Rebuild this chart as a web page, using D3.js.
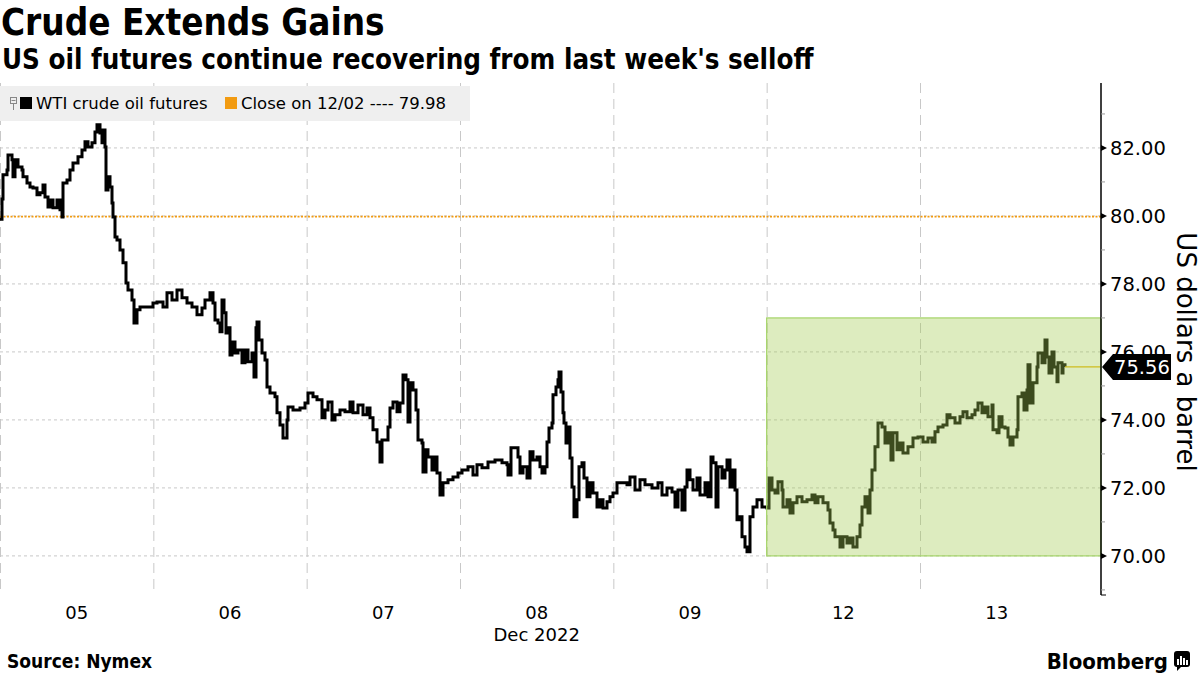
<!DOCTYPE html>
<html>
<head>
<meta charset="utf-8">
<script src="https://cdn.jsdelivr.net/npm/d3@7"></script>
<style>
  body { margin: 0; background: #fff; }
  svg { display: block; }
  .cond { font-family: 'DejaVu Sans Condensed', 'DejaVu Sans', sans-serif; font-stretch: condensed; font-weight: bold; }
  .lbl { font-family: 'DejaVu Sans', sans-serif; }
</style>
</head>
<body>
<svg id="chart" width="1200" height="675"></svg>
<script>
// trading sessions shown (one label per session), 23 hours each
let sessionHours = 23;
let dayLabels = ["05", "06", "07", "08", "09", "12", "13"];
let monthLabel = "Dec 2022";
let yTickValues = [70, 72, 74, 76, 78, 80, 82];
let yMinorValues = [69, 71, 73, 75, 77, 79, 81, 83];
let prevClose = 79.98;
let lastPrice = 75.56;
// shaded box: from the start of session 5 (Dec 12), 70 to 77
let boxSession = 5;
let boxRange = [70, 77];

// WTI intraday: [hours since Dec 5 session open, price]
let wti = [
  [0, 79.9], [0.3, 80.5], [0.45, 81.21], [1.05, 81.35], [1.2, 81.79], [1.8, 81.65], [1.95, 81.15], [2.25, 81.65],
  [2.7, 81.44], [3.3, 81.35], [3.45, 81.15], [4.05, 80.97], [4.5, 80.85], [4.95, 80.82], [5.55, 80.62], [6.0, 80.68],
  [6.45, 80.91], [6.75, 80.56], [7.2, 80.26], [7.5, 80.47], [7.95, 80.24], [8.55, 80.47], [9.0, 80.18], [9.3, 79.97],
  [9.45, 80.97], [10.05, 81.06], [10.5, 81.35], [10.95, 81.56], [11.7, 81.74], [12.3, 81.94], [12.75, 82.18], [13.2, 82.03],
  [13.8, 82.15], [14.25, 82.47], [14.55, 82.68], [15.0, 82.44], [15.3, 82.15], [15.45, 82.53], [15.75, 82.03], [15.9, 80.76],
  [16.2, 81.15], [16.5, 80.85], [16.8, 80.38], [16.95, 79.97], [17.25, 79.38], [17.55, 79.29], [18.0, 79.00], [18.45, 78.62],
  [18.9, 78.03], [19.2, 77.82], [19.8, 77.53], [20.1, 76.85], [20.55, 77.24], [21.0, 77.32], [22.05, 77.32], [22.95, 77.44],
  [23.55, 77.47], [24.45, 77.32], [25.05, 77.74], [25.8, 77.53], [26.55, 77.82], [27.3, 77.59], [28.05, 77.44], [28.8, 77.32],
  [29.55, 77.09], [30.3, 77.29], [30.75, 77.53], [31.5, 77.74], [31.95, 77.44], [32.25, 76.94], [32.7, 76.85], [33.0, 76.59],
  [33.3, 77.53], [33.6, 77.15], [33.9, 76.56], [34.2, 76.71], [34.5, 75.91], [34.8, 76.29], [35.25, 75.97], [35.7, 76.06],
  [36.3, 75.68], [36.75, 76.06], [37.2, 75.71], [37.8, 75.97], [38.1, 75.26], [38.4, 76.71], [38.55, 76.88], [38.85, 76.35],
  [39.3, 75.97], [39.75, 75.76], [40.05, 74.97], [40.5, 74.79], [41.25, 74.68], [41.55, 74.21], [42.0, 73.85], [42.45, 73.47],
  [43.05, 74.00], [43.2, 74.38], [43.95, 74.29], [45.0, 74.35], [45.75, 74.50], [46.05, 74.50], [46.2, 74.79], [46.95, 74.68],
  [47.55, 74.59], [48.3, 74.06], [48.75, 74.29], [49.2, 74.53], [49.8, 74.00], [50.25, 74.15], [51.0, 74.29], [51.75, 74.24],
  [52.5, 74.53], [52.95, 74.21], [53.7, 74.44], [54.45, 74.15], [55.05, 74.35], [55.5, 74.06], [55.95, 73.71], [56.55, 73.35],
  [57.0, 72.76], [57.3, 73.41], [57.75, 73.41], [58.2, 73.79], [58.5, 74.35], [58.95, 74.53], [59.55, 74.24], [60.0, 74.50],
  [60.45, 75.32], [60.9, 75.18], [61.2, 73.94], [61.5, 75.09], [61.95, 74.88], [62.4, 74.29], [62.7, 73.41], [63.3, 73.32],
  [63.45, 72.47], [63.9, 73.12], [64.2, 72.91], [64.8, 72.53], [65.25, 72.91], [65.55, 72.44], [66.0, 71.79], [66.45, 72.15],
  [67.2, 72.24], [67.95, 72.32], [68.7, 72.44], [69.3, 72.53], [70.2, 72.62], [70.95, 72.38], [71.55, 72.68], [72.3, 72.59],
  [73.2, 72.76], [74.25, 72.82], [75.3, 72.74], [76.05, 72.68], [76.2, 72.38], [76.65, 73.18], [77.25, 73.18], [77.7, 72.91],
  [78.0, 72.44], [78.45, 72.62], [79.05, 72.29], [79.5, 73.06], [79.95, 72.82], [80.55, 72.91], [81.0, 72.62], [81.3, 72.44],
  [81.75, 72.62], [82.05, 73.35], [82.35, 73.76], [82.8, 73.91], [82.95, 74.74], [83.4, 74.97], [83.7, 75.18], [83.85, 75.41],
  [84.15, 74.82], [84.45, 74.21], [84.6, 73.91], [84.9, 73.32], [85.2, 73.79], [85.5, 72.88], [85.8, 72.03], [86.1, 71.15],
  [86.55, 71.65], [86.85, 72.62], [87.3, 72.74], [87.6, 72.29], [88.05, 71.74], [88.5, 72.15], [88.95, 71.85], [89.55, 71.44],
  [90.0, 71.65], [90.45, 71.41], [91.05, 71.59], [91.5, 71.74], [91.95, 71.85], [92.55, 72.15], [93.0, 72.15], [94.05, 72.09],
  [94.5, 72.32], [95.25, 71.94], [96.0, 72.24], [96.75, 72.09], [97.8, 72.00], [98.7, 72.15], [99.3, 71.79], [100.05, 72.00],
  [100.8, 71.88], [101.25, 71.44], [101.7, 71.94], [102.3, 71.35], [102.75, 72.03], [103.05, 72.53], [103.5, 72.24], [103.95, 71.94],
  [104.55, 72.29], [105.0, 71.79], [105.75, 72.15], [106.2, 71.74], [106.65, 72.91], [106.95, 72.74], [107.4, 71.44], [107.7, 72.62],
  [108.3, 72.29], [108.75, 72.53], [109.05, 72.82], [109.5, 72.03], [109.95, 72.53], [110.25, 71.94], [110.55, 71.06], [111.0, 71.15],
  [111.3, 70.56], [111.75, 70.26], [112.05, 70.12], [112.5, 71.15], [112.95, 71.44], [113.55, 71.65], [114.3, 71.44], [115.05, 71.41],
  [115.35, 72.29], [115.8, 71.94], [116.25, 71.85], [116.7, 72.18], [117.3, 71.94], [117.45, 71.44], [118.05, 71.65], [118.5, 71.26],
  [118.95, 71.56], [119.55, 71.74], [120.3, 71.59], [121.05, 71.65], [121.8, 71.79], [122.25, 71.56], [122.7, 71.74], [123.45, 71.56],
  [124.2, 71.35], [124.5, 70.97], [124.95, 70.76], [125.25, 70.56], [126.0, 70.26], [126.45, 70.56], [127.05, 70.38], [127.5, 70.53],
  [127.95, 70.26], [128.55, 70.56], [129.0, 70.91], [129.3, 71.44], [129.75, 71.74], [130.2, 71.26], [130.5, 71.94], [130.8, 72.53],
  [131.25, 73.21], [131.7, 73.91], [132.3, 73.79], [132.75, 73.32], [133.2, 73.62], [133.65, 72.82], [133.95, 73.62], [134.55, 73.12],
  [135.0, 73.32], [135.45, 73.03], [136.2, 73.21], [136.95, 73.47], [137.7, 73.50], [138.45, 73.35], [139.2, 73.47], [139.8, 73.35],
  [140.25, 73.65], [140.7, 73.79], [141.45, 73.85], [142.05, 74.15], [142.5, 74.06], [143.25, 73.91], [144.0, 74.09], [144.45, 74.24],
  [145.05, 74.06], [145.8, 74.15], [146.25, 74.29], [146.7, 74.50], [147.3, 74.21], [147.75, 74.38], [148.2, 74.09], [148.8, 74.44],
  [148.95, 73.71], [149.55, 73.62], [149.85, 74.09], [150.3, 73.79], [150.75, 73.76], [151.2, 73.50], [151.5, 73.26], [151.95, 73.50],
  [152.55, 73.71], [152.7, 74.68], [153.3, 74.79], [153.6, 74.29], [154.05, 74.88], [154.2, 75.62], [154.5, 74.50], [154.95, 75.09],
  [155.55, 75.56], [155.7, 75.97], [156.3, 75.68], [156.75, 76.35], [157.05, 75.85], [157.35, 75.38], [157.8, 76.00], [158.1, 75.56],
  [158.55, 75.12], [158.7, 75.68], [159.3, 75.38], [159.45, 75.62], [159.75, 75.56]
];

let svg = d3.select("#chart");
let plot = { left: 0, right: 1101, top: 83, bottom: 595 };

let x = d3.scaleLinear().domain([0, 165.15]).range([plot.left, plot.right]);
let y = d3.scaleLinear().domain([68.85, 83.91]).range([plot.bottom, plot.top]);

// titles
svg.append("text").attr("class", "cond").attr("x", 1).attr("y", 35)
  .style("font-size", "36.5px").text("Crude Extends Gains");
svg.append("text").attr("class", "cond").attr("x", 2).attr("y", 69)
  .style("font-size", "27.5px").text("US oil futures continue recovering from last week's selloff");

// grid
let grid = svg.append("g");
grid.selectAll("line.h").data(yTickValues).enter().append("line")
  .attr("x1", plot.left).attr("x2", plot.right)
  .attr("y1", d => y(d)).attr("y2", d => y(d))
  .style("stroke", "#c8c8c8").style("stroke-width", 1).style("stroke-dasharray", "3,3");
let sessionBounds = d3.range(0, dayLabels.length).map(i => i * sessionHours);
grid.selectAll("line.v").data(sessionBounds).enter().append("line")
  .attr("x1", d => x(d) + 0.5).attr("x2", d => x(d) + 0.5)
  .attr("y1", plot.top).attr("y2", plot.bottom)
  .style("stroke", "#c8c8c8").style("stroke-width", 1).style("stroke-dasharray", "10,6");

// previous close reference line
svg.append("line")
  .attr("x1", plot.left).attr("x2", plot.right)
  .attr("y1", y(prevClose)).attr("y2", y(prevClose))
  .style("stroke", "#f29b11").style("stroke-width", 1.6).style("stroke-dasharray", "2,1.5");

// price line
let line = d3.line().x(d => x(d[0])).y(d => y(d[1])).curve(d3.curveStepAfter);
svg.append("path").datum(wti).attr("d", line)
  .style("fill", "none").style("stroke", "#000").style("stroke-width", 3)
  .style("stroke-linejoin", "miter");

// last price leader
let lastH = wti[wti.length - 1][0];
svg.append("line")
  .attr("x1", x(lastH)).attr("x2", plot.right)
  .attr("y1", y(lastPrice)).attr("y2", y(lastPrice))
  .style("stroke", "#e8b400").style("stroke-width", 1.2);

// highlight box
let bx = x(boxSession * sessionHours);
svg.append("rect")
  .attr("x", bx).attr("y", y(boxRange[1]))
  .attr("width", plot.right - bx).attr("height", y(boxRange[0]) - y(boxRange[1]))
  .style("fill", "rgb(162,203,81)").style("fill-opacity", 0.37)
  .style("stroke", "#a4d467").style("stroke-width", 1.2);

// legend
let legend = svg.append("g");
legend.append("rect").attr("x", 0).attr("y", 86).attr("width", 470).attr("height", 35).style("fill", "#efefef");
legend.append("rect").attr("x", 10.5).attr("y", 97.5).attr("width", 6).attr("height", 6)
  .style("fill", "none").style("stroke", "#888").style("stroke-width", 1);
legend.append("line").attr("x1", 11.5).attr("x2", 15.5).attr("y1", 100.5).attr("y2", 100.5).style("stroke", "#888");
legend.append("line").attr("x1", 13.5).attr("x2", 13.5).attr("y1", 104).attr("y2", 110).style("stroke", "#888");
legend.append("rect").attr("x", 20).attr("y", 97).attr("width", 12).attr("height", 12).style("fill", "#000");
legend.append("text").attr("class", "lbl").attr("x", 36).attr("y", 109)
  .style("font-size", "16.5px").style("fill", "#000").text("WTI crude oil futures");
legend.append("rect").attr("x", 225).attr("y", 97).attr("width", 12).attr("height", 12).style("fill", "#f29b11");
legend.append("text").attr("class", "lbl").attr("x", 241).attr("y", 109)
  .style("font-size", "16.5px").style("fill", "#000")
  .text("Close on 12/02 ---- " + prevClose.toFixed(2));

// y axis
let yAxis = svg.append("g").attr("transform", "translate(" + plot.right + ",0)");
yAxis.append("line").attr("x1", 0).attr("x2", 0).attr("y1", plot.top).attr("y2", plot.bottom)
  .style("stroke", "#000").style("stroke-width", 1.5);
yAxis.selectAll("line.minor").data(yMinorValues).enter().append("line")
  .attr("x1", 0).attr("x2", 4).attr("y1", d => y(d)).attr("y2", d => y(d))
  .style("stroke", "#999").style("stroke-width", 1);
yAxis.selectAll("path.major").data(yTickValues).enter().append("path")
  .attr("d", d => "M0," + (y(d) - 3) + "L6," + y(d) + "L0," + (y(d) + 3) + "Z")
  .style("fill", "#000");
yAxis.selectAll("text.tick").data(yTickValues).enter().append("text")
  .attr("class", "lbl").attr("x", 9).attr("y", d => y(d)).attr("dy", "0.36em")
  .style("font-size", "19.5px").style("fill", "#000")
  .text(d3.format(".2f"));
yAxis.append("line").attr("x1", 0).attr("x2", 5).attr("y1", plot.bottom).attr("y2", plot.bottom)
  .style("stroke", "#000");

// axis title
svg.append("text").attr("class", "lbl")
  .attr("transform", "translate(1177,352) rotate(90)")
  .attr("text-anchor", "middle")
  .style("font-size", "26px").style("fill", "#000")
  .text("US dollars a barrel");

// last price tag
let ty = y(lastPrice);
let tag = svg.append("g").attr("transform", "translate(" + (plot.right + 1) + "," + ty + ")");
tag.append("path").attr("d", "M0,0L11,-13L69,-13L69,13L11,13Z").style("fill", "#000");
tag.append("text").attr("class", "lbl").attr("x", 12).attr("y", 0).attr("dy", "0.36em")
  .style("font-size", "19.5px").style("fill", "#fff").text(lastPrice.toFixed(2));

// x labels
let xAxis = svg.append("g");
xAxis.selectAll("text").data(dayLabels).enter().append("text")
  .attr("class", "lbl")
  .attr("x", (d, i) => x((i + 0.5) * sessionHours))
  .attr("y", 619).attr("text-anchor", "middle")
  .style("font-size", "18px").style("fill", "#000").text(d => d);
xAxis.append("text").attr("class", "lbl")
  .attr("x", x(3.5 * sessionHours)).attr("y", 641).attr("text-anchor", "middle")
  .style("font-size", "18px").style("fill", "#000").text(monthLabel);

// footer
svg.append("text").attr("class", "cond").attr("x", 7).attr("y", 668)
  .style("font-size", "19px").text("Source: Nymex");
svg.append("text").attr("class", "cond").attr("x", 1168).attr("y", 669)
  .attr("text-anchor", "end").style("font-size", "22px").text("Bloomberg");
let logo = svg.append("g").attr("transform", "translate(1174,651)");
logo.append("rect").attr("width", 16).attr("height", 16).attr("rx", 3).style("fill", "#000");
logo.append("path").attr("d", "M3,16L3,20L7,16Z").style("fill", "#000");
[[4, 8], [7, 5], [10, 7], [13, 9]].forEach(function(b) {
  logo.append("rect").attr("x", b[0] - 1).attr("y", b[1]).attr("width", 2).attr("height", 14 - b[1]).style("fill", "#fff");
});
</script>
</body>
</html>
